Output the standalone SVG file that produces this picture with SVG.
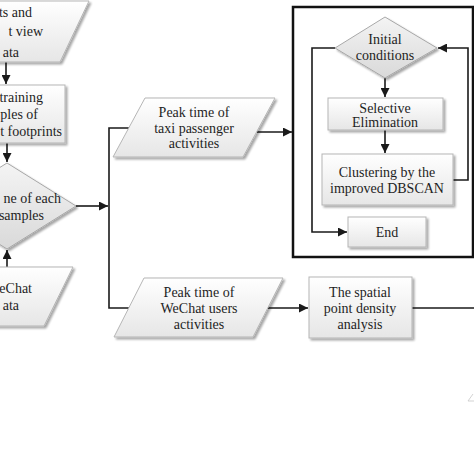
<svg xmlns="http://www.w3.org/2000/svg" width="474" height="474" viewBox="0 0 474 474">
<defs>
<linearGradient id="gBox" x1="0" y1="0" x2="0" y2="1">
<stop offset="0" stop-color="#ffffff"/>
<stop offset="1" stop-color="#e6e6e6"/>
</linearGradient>
<linearGradient id="gDia" x1="0" y1="0" x2="0" y2="1">
<stop offset="0" stop-color="#f4f4f4"/>
<stop offset="1" stop-color="#d9d9d9"/>
</linearGradient>
<filter id="sh" x="-20%" y="-20%" width="140%" height="140%">
<feGaussianBlur in="SourceAlpha" stdDeviation="1.2"/>
<feOffset dx="2" dy="2" result="b"/>
<feComponentTransfer><feFuncA type="linear" slope="0.35"/></feComponentTransfer>
<feMerge><feMergeNode/><feMergeNode in="SourceGraphic"/></feMerge>
</filter>
<marker id="ar" viewBox="0 0 10 10" refX="10" refY="5" markerWidth="9" markerHeight="9" markerUnits="userSpaceOnUse" orient="auto">
<path d="M0,0 L10,5 L0,10 Z" fill="#1a1a1a"/>
</marker>
</defs>
<style>
.box{fill:url(#gBox);stroke:#b5b5b5;stroke-width:1;filter:url(#sh)}
.dia{fill:url(#gDia);stroke:#a8a8a8;stroke-width:1;filter:url(#sh)}
.ln{fill:none;stroke:#1a1a1a;stroke-width:1.6}
.t{font-family:"Liberation Serif","Times New Roman",serif;font-size:14px;fill:#1e1e1e;text-anchor:middle}
.te{font-family:"Liberation Serif","Times New Roman",serif;font-size:14px;fill:#1e1e1e;text-anchor:end}
</style>
<rect width="474" height="474" fill="#ffffff"/>

<g id="frame">
<rect x="293" y="7" width="180" height="250" fill="none" stroke="#111" stroke-width="2.5"/>
</g>

<g id="connectors">
<path class="ln" d="M6,62 V84" marker-end="url(#ar)"/>
<path class="ln" d="M7,143 V162" marker-end="url(#ar)"/>
<path class="ln" d="M7,267 V250" marker-end="url(#ar)"/>
<path class="ln" d="M76,206 H108" marker-end="url(#ar)"/>
<path class="ln" d="M129,128 H109 V308 H129"/>
<path class="ln" d="M257,132 H292" marker-end="url(#ar)"/>
<path class="ln" d="M268,308 H308" marker-end="url(#ar)"/>
<path class="ln" d="M412,308 H474"/>
<path class="ln" d="M385,78 V97" marker-end="url(#ar)"/>
<path class="ln" d="M385,130 V153" marker-end="url(#ar)"/>
<path class="ln" d="M335,48 H312 V232 H347" marker-end="url(#ar)"/>
<path class="ln" d="M453,180 H468 V48 H438" marker-end="url(#ar)"/>
</g>

<g id="n-input-top">
<polygon class="box" points="-40,1 89,1 60,62 -70,62"/>
<text class="te" x="32" y="17">ts and</text>
<text class="te" x="43" y="36">t view</text>
<text class="te" x="19" y="57">ata</text>
</g>

<g id="n-training">
<rect class="box" x="-60" y="85" width="125" height="58"/>
<text class="te" x="43" y="102">training</text>
<text class="te" x="38" y="119">ples of</text>
<text class="te" x="62" y="136">t footprints</text>
</g>

<g id="n-decision">
<polygon class="dia" points="7,163 76,206 7,249 -62,206"/>
<text class="te" x="61" y="203">ne  of each</text>
<text class="te" x="44" y="220">samples</text>
</g>

<g id="n-wechat-data">
<polygon class="box" points="-60,267 73,267 44,326 -90,326"/>
<text class="te" x="32" y="293">eChat</text>
<text class="te" x="19" y="310">ata</text>
</g>

<g id="n-taxi-peak">
<polygon class="box" points="145,98 275,98 243,157 113,157"/>
<text class="t" x="194" y="117">Peak time of</text>
<text class="t" x="194" y="133">taxi passenger</text>
<text class="t" x="194" y="148">activities</text>
</g>

<g id="n-wechat-peak">
<polygon class="box" points="144,278 283,278 253,337 114,337"/>
<text class="t" x="199" y="297">Peak time of</text>
<text class="t" x="199" y="313">WeChat users</text>
<text class="t" x="199" y="329">activities</text>
</g>

<g id="n-spatial">
<rect class="box" x="309" y="277" width="103" height="61"/>
<text class="t" x="360" y="297">The spatial</text>
<text class="t" x="360" y="313">point density</text>
<text class="t" x="360" y="329">analysis</text>
</g>

<g id="n-initial">
<polygon class="dia" points="385,17 437,48 385,78 335,48"/>
<text class="t" x="385" y="44">Initial</text>
<text class="t" x="385" y="60">conditions</text>
</g>

<g id="n-selective">
<rect class="box" x="328" y="98" width="115" height="32"/>
<text class="t" x="385" y="113">Selective</text>
<text class="t" x="385" y="127">Elimination</text>
</g>

<g id="n-clustering">
<rect class="box" x="322" y="154" width="131" height="51"/>
<text class="t" x="387" y="177">Clustering by the</text>
<text class="t" x="387" y="193">improved DBSCAN</text>
</g>

<g id="n-end">
<rect class="box" x="348" y="217" width="78" height="30"/>
<text class="t" x="387" y="237">End</text>
</g>

<path d="M473,394 L468,401 L474,401" fill="none" stroke="#c8c8c8" stroke-width="0.8"/>
</svg>
